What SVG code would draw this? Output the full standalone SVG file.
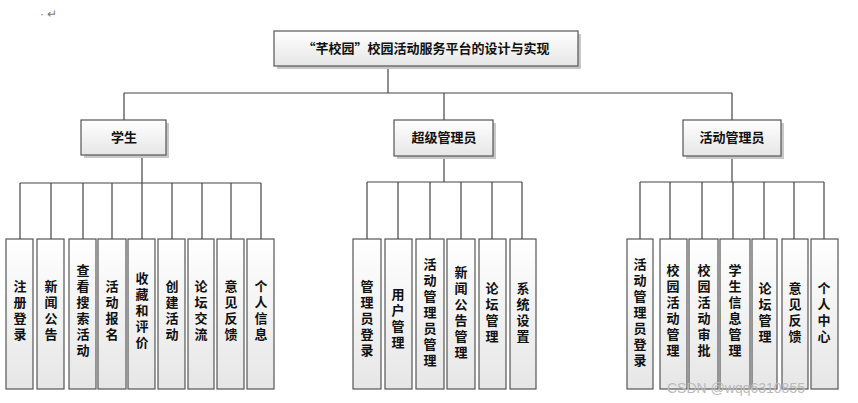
<svg xmlns="http://www.w3.org/2000/svg" width="858" height="403" viewBox="0 0 858 403">
<defs>
<linearGradient id="g" x1="0" y1="0" x2="0" y2="1"><stop offset="0" stop-color="#ffffff"/><stop offset="1" stop-color="#e6e6e6"/></linearGradient>
<style>
.b{fill:url(#g);stroke:#555;stroke-width:1.2}
.s{fill:#c8c8c8}
.t{font-family:"Noto Sans CJK SC","Liberation Serif",serif;font-weight:bold;font-size:13px;fill:#111;text-anchor:middle}
.v{font-family:"Noto Sans CJK SC","Liberation Serif",serif;font-weight:bold;font-size:13px;fill:#111;text-anchor:middle;writing-mode:vertical-rl;letter-spacing:3px}
.c{stroke:#444;stroke-width:1.2;fill:none}
</style>
</defs>
<rect width="858" height="403" fill="#fff"/>
<text x="40" y="18" font-family="Liberation Sans,sans-serif" font-size="12" fill="#777">· ↵</text>
<g id="connectors" class="c">
<path d="M388 66V93M124 93H732M124 93V120M444 93V120M732 93V120"/>
<path d="M142 155V183M20 183H261M20 183V239M51 183V239M83 183V239M112 183V239M142 183V239M172 183V239M202 183V239M231 183V239M261 183V239"/>
<path d="M444 156V182M367 182H522M367 182V239M398 182V239M430 182V239M461 182V239M492 182V239M522 182V239"/>
<path d="M732 156V182M640 182H824M640 182V239M670 182V239M702 182V239M733 182V239M764 182V239M794 182V239M824 182V239"/>
</g>
<g id="root"><rect class="s" x="277" y="34" width="304" height="35"/><rect class="b" x="274" y="31" width="304" height="35"/><text class="t" x="426" y="53">“芊校园”校园活动服务平台的设计与实现</text></g>
<g id="student"><rect class="s" x="84" y="123" width="85" height="35"/><rect class="b" x="81" y="120" width="85" height="35"/><text class="t" x="124" y="142">学生</text></g>
<g id="super"><rect class="s" x="397" y="123" width="99" height="36"/><rect class="b" x="394" y="120" width="99" height="36"/><text class="t" x="444" y="142">超级管理员</text></g>
<g id="actadmin"><rect class="s" x="686" y="123" width="98" height="36"/><rect class="b" x="683" y="120" width="98" height="36"/><text class="t" x="732" y="142">活动管理员</text></g>
<g id="leaves">
<g id="s1"><rect class="b" x="6" y="239" width="27" height="150"/><text class="v" x="20" y="312">注册登录</text></g>
<g id="s2"><rect class="b" x="37" y="239" width="27" height="150"/><text class="v" x="51" y="312">新闻公告</text></g>
<g id="s3"><rect class="b" x="69" y="239" width="27" height="150"/><text class="v" x="83" y="312">查看搜索活动</text></g>
<g id="s4"><rect class="b" x="98" y="239" width="28" height="150"/><text class="v" x="112" y="312">活动报名</text></g>
<g id="s5"><rect class="b" x="128" y="239" width="27" height="150"/><text class="v" x="142" y="312">收藏和评价</text></g>
<g id="s6"><rect class="b" x="158" y="239" width="27" height="150"/><text class="v" x="172" y="312">创建活动</text></g>
<g id="s7"><rect class="b" x="188" y="239" width="26" height="150"/><text class="v" x="201" y="312">论坛交流</text></g>
<g id="s8"><rect class="b" x="217" y="239" width="27" height="150"/><text class="v" x="231" y="312">意见反馈</text></g>
<g id="s9"><rect class="b" x="247" y="239" width="27" height="150"/><text class="v" x="261" y="312">个人信息</text></g>
<g id="a1"><rect class="b" x="353" y="239" width="28" height="150"/><text class="v" x="367" y="320">管理员登录</text></g>
<g id="a2"><rect class="b" x="385" y="239" width="27" height="150"/><text class="v" x="398" y="320">用户管理</text></g>
<g id="a3"><rect class="b" x="416" y="239" width="28" height="150"/><text class="v" x="430" y="314">活动管理员管理</text></g>
<g id="a4"><rect class="b" x="447" y="239" width="28" height="150"/><text class="v" x="461" y="314">新闻公告管理</text></g>
<g id="a5"><rect class="b" x="479" y="239" width="27" height="150"/><text class="v" x="492" y="314">论坛管理</text></g>
<g id="a6"><rect class="b" x="510" y="239" width="26" height="150"/><text class="v" x="523" y="314">系统设置</text></g>
<g id="m1"><rect class="b" x="627" y="239" width="26" height="150"/><text class="v" x="640" y="314">活动管理员登录</text></g>
<g id="m2"><rect class="b" x="660" y="239" width="27" height="150"/><text class="v" x="673" y="312">校园活动管理</text></g>
<g id="m3"><rect class="b" x="689" y="239" width="29" height="150"/><text class="v" x="704" y="312">校园活动审批</text></g>
<g id="m4"><rect class="b" x="720" y="239" width="30" height="150"/><text class="v" x="735" y="312">学生信息管理</text></g>
<g id="m5"><rect class="b" x="752" y="239" width="25" height="150"/><text class="v" x="765" y="314">论坛管理</text></g>
<g id="m6"><rect class="b" x="782" y="239" width="26" height="150"/><text class="v" x="795" y="314">意见反馈</text></g>
<g id="m7"><rect class="b" x="811" y="239" width="27" height="150"/><text class="v" x="824" y="314">个人中心</text></g>
</g>
<text x="667" y="393" font-family="Liberation Sans,sans-serif" font-size="14" fill="#bbb">CSDN @wqq6310855</text>
</svg>
